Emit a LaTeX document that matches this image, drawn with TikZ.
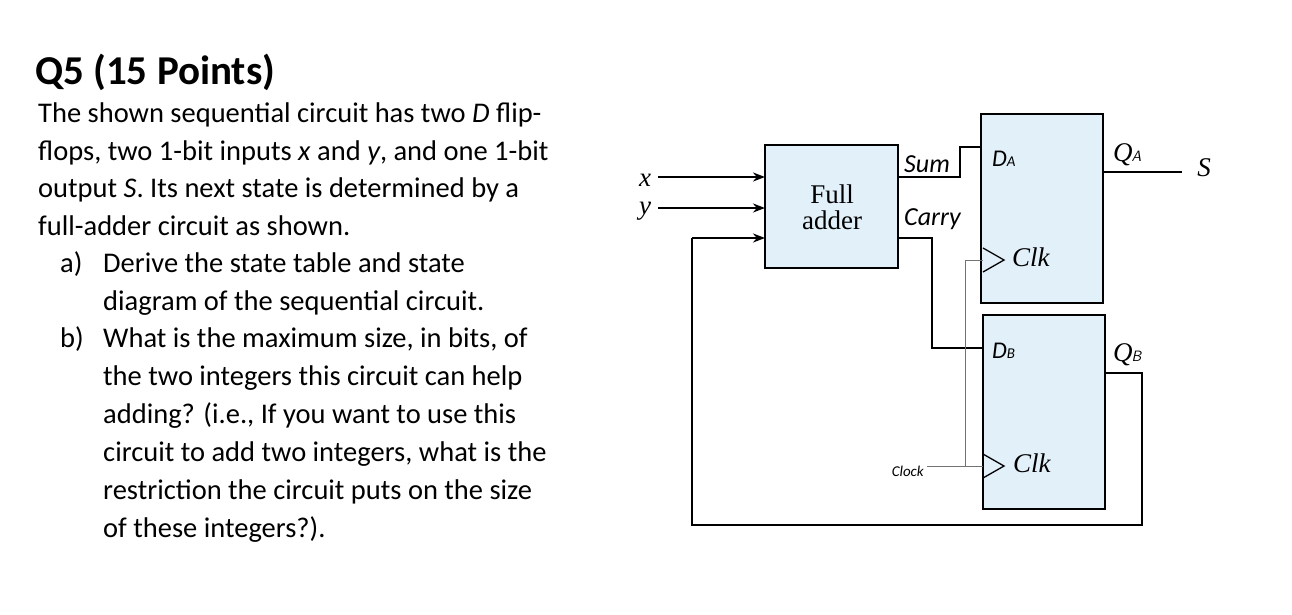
\documentclass[tikz,border=0pt]{standalone}
\usepackage{fontspec}
\setmainfont{Carlito}
\newfontfamily\serifx{Liberation Serif}
\usetikzlibrary{arrows.meta}
\definecolor{boxblue}{HTML}{E2F0FA}
\tikzset{
  block/.style={draw, line width=2.4pt, fill=boxblue},
  wire/.style={line width=2.4pt},
  thinwire/.style={line width=1pt, draw=black!55},
  inarrow/.style={wire, -{Stealth[length=12pt,width=9pt]}},
  txt/.style={anchor=base west, inner sep=0pt, font=\fontsize{28.5}{32}\selectfont},
  sl/.style={inner sep=0pt, font=\serifx\fontsize{27}{28}\selectfont},
  sa/.style={inner sep=0pt, font=\itshape\fontsize{26}{27}\selectfont},
}
\begin{document}
\begin{tikzpicture}[x=1pt,y=-1pt]
\useasboundingbox (0,0) rectangle (1292,614);
% question text
\node[txt, font=\bfseries\fontsize{41}{44}\selectfont] (title) at (35,84) {Q5 (15 Points)};
\node[txt] (l1) at (38,122) {The shown sequential circuit has two \textit{D} flip-};
\node[txt] (l2) at (38,160) {flops, two 1-bit inputs \textit{x} and \textit{y}, and one 1-bit};
\node[txt] (l3) at (38,197) {output \textit{S}. Its next state is determined by a};
\node[txt] (l4) at (38,235) {full-adder circuit as shown.};
\node[txt] (a1) at (60,272) {a)};
\node[txt] (a2) at (103,272) {Derive the state table and state};
\node[txt] (a3) at (103,310) {diagram of the sequential circuit.};
\node[txt] (b1) at (60,347) {b)};
\node[txt] (b2) at (103,347) {What is the maximum size, in bits, of};
\node[txt] (b3) at (103,385) {the two integers this circuit can help};
\node[txt] (b4) at (103,423) {adding? (i.e., If you want to use this};
\node[txt] (b5) at (103,461) {circuit to add two integers, what is the};
\node[txt] (b6) at (103,499) {restriction the circuit puts on the size};
\node[txt] (b7) at (103,537) {of these integers?).};
% blocks
\draw[block] (765,145) rectangle (898,268);
\node[sl, align=center] (fa) at (832,207) {Full\\[-2pt]adder};
\draw[block] (981,114) rectangle (1103,303);
\draw[block] (983,315) rectangle (1105,509);
% clock triangles
\draw[line width=1.3pt] (983,248) -- (1004,260) -- (983,272);
\draw[line width=1.3pt] (983,454) -- (1004,466) -- (983,478);
% labels
\node[sl, anchor=base] (xl) at (645,186) {\textit{x}};
\node[sl, anchor=base] (yl) at (645,214) {\textit{y}};
\node[sa, anchor=base west] (sum) at (904,172) {Sum};
\node[sa, anchor=base west] (car) at (904,225) {Carry};
\node[sa, anchor=base west, font=\itshape\fontsize{24}{24}\selectfont] (da) at (992,166) {D{\fontsize{15}{15}\selectfont A}};
\node[sa, anchor=base west, font=\itshape\fontsize{24}{24}\selectfont] (db) at (992,358) {D{\fontsize{15}{15}\selectfont B}};
\node[sl, anchor=base west] (clka) at (1012,266) {\textit{Clk}};
\node[sl, anchor=base west] (clkb) at (1013,472) {\textit{Clk}};
\node[sl, anchor=base west, font=\serifx\fontsize{27}{27}\selectfont] (qa) at (1113,161) {\textit{Q}\kern-1pt{\sffamily\itshape\fontsize{15}{15}\selectfont A}};
\node[sl, anchor=base west, font=\serifx\fontsize{27}{27}\selectfont] (qb) at (1113,361) {\textit{Q}\kern-1pt{\sffamily\itshape\fontsize{15}{15}\selectfont B}};
\node[sl, anchor=base] (s) at (1204,176) {\textit{S}};
\node[anchor=base east, inner sep=2pt, font=\itshape\fontsize{15}{16}\selectfont] (clock) at (926,476) {Clock};
% coordinates
\coordinate (xs) at (658,177); \coordinate (xe) at (765,177);
\coordinate (ys) at (658,208); \coordinate (ye) at (765,208);
\coordinate (ce) at (765,238);
% wires
\draw[inarrow] (xs) -- (xe);
\draw[inarrow] (ys) -- (ye);
\draw[wire] (1105,373) -| (1142,525) -| (692,238);
\draw[inarrow] (692,238) -- (ce);
\draw[wire] (898,177) -- (960,177) |- (981,147);
\draw[wire] (898,238) -- (932,238) |- (983,348);
\draw[wire] (1103,172) -- (1182,172);
\draw[thinwire] (927,466) -- (983,466);
\draw[thinwire] (965,466) |- (983,260);
\end{tikzpicture}
\end{document}
